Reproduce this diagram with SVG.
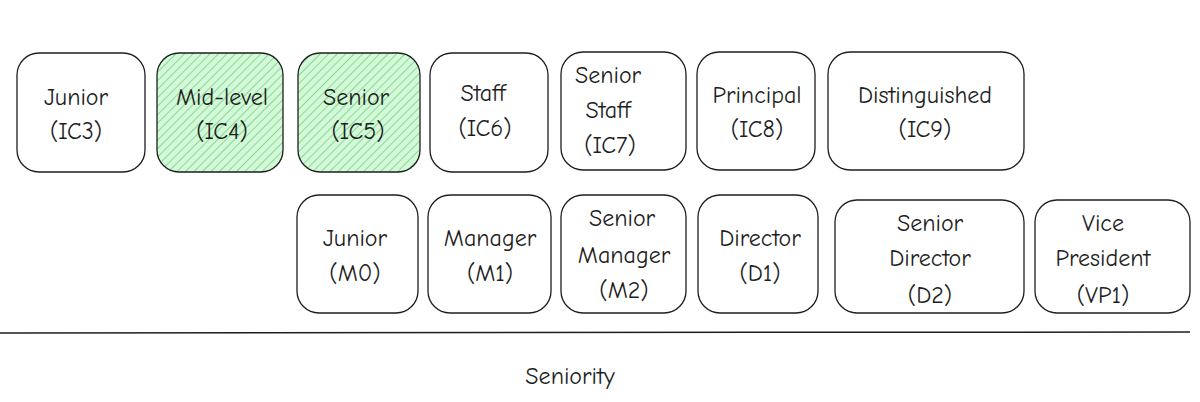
<svg xmlns="http://www.w3.org/2000/svg" width="1200" height="402" viewBox="0 0 1200 402">
<style>
.b{fill:#fff;stroke:#1e1e1e;stroke-width:1.3}
.g{fill:url(#h);stroke:#1e1e1e;stroke-width:1.3}
text{font-family:"Comic Neue","Liberation Sans",sans-serif;font-size:24px;fill:#1e1e1e;text-anchor:middle}
</style>
<defs>
<pattern id="h" width="6" height="6" patternUnits="userSpaceOnUse" patternTransform="rotate(45)">
<rect width="6" height="6" fill="#d3f9d8"/>
<line x1="0" y1="0" x2="0" y2="6" stroke="#6fcf7f" stroke-width="1.5"/>
</pattern>
</defs>
<rect width="1200" height="402" fill="#fff"/>
<g id="ic3"><rect class="b" x="17" y="53" width="128" height="119" rx="22"/><text x="76" y="105">Junior</text><text x="76" y="139">(IC3)</text></g>
<g id="ic4"><rect class="g" x="157" y="53" width="126" height="119" rx="22"/><text x="222" y="105">Mid-level</text><text x="222" y="139">(IC4)</text></g>
<g id="ic5"><rect class="g" x="298" y="53" width="122" height="119" rx="22"/><text x="356" y="105">Senior</text><text x="358" y="139">(IC5)</text></g>
<g id="ic6"><rect class="b" x="430" y="53" width="118" height="119" rx="22"/><text x="483" y="101">Staff</text><text x="485" y="136">(IC6)</text></g>
<g id="ic7"><rect class="b" x="561" y="52" width="125" height="118" rx="22"/><text x="608" y="83">Senior</text><text x="608" y="118">Staff</text><text x="610" y="153">(IC7)</text></g>
<g id="ic8"><rect class="b" x="697" y="52" width="118" height="118" rx="22"/><text x="757" y="103">Principal</text><text x="757" y="137">(IC8)</text></g>
<g id="ic9"><rect class="b" x="828" y="52" width="196" height="118" rx="22"/><text x="925" y="103">Distinguished</text><text x="925" y="137">(IC9)</text></g>
<g id="m0"><rect class="b" x="297" y="195" width="121" height="118" rx="22"/><text x="355" y="246">Junior</text><text x="355" y="281">(M0)</text></g>
<g id="m1"><rect class="b" x="428" y="195" width="123" height="118" rx="22"/><text x="490" y="246">Manager</text><text x="490" y="281">(M1)</text></g>
<g id="m2"><rect class="b" x="561" y="195" width="125" height="118" rx="22"/><text x="622" y="226">Senior</text><text x="624" y="263">Manager</text><text x="624" y="298">(M2)</text></g>
<g id="d1"><rect class="b" x="698" y="195" width="120" height="118" rx="22"/><text x="760" y="246">Director</text><text x="760" y="281">(D1)</text></g>
<g id="d2"><rect class="b" x="835" y="200" width="189" height="113" rx="22"/><text x="930" y="231">Senior</text><text x="930" y="266">Director</text><text x="930" y="303">(D2)</text></g>
<g id="vp1"><rect class="b" x="1035" y="200" width="155" height="113" rx="22"/><text x="1103" y="231">Vice</text><text x="1103" y="266">President</text><text x="1103" y="303">(VP1)</text></g>
<g id="connectors"><line x1="0" y1="333" x2="1190" y2="332" stroke="#1e1e1e" stroke-width="1.5"/></g>
<text x="570" y="384">Seniority</text>
</svg>
